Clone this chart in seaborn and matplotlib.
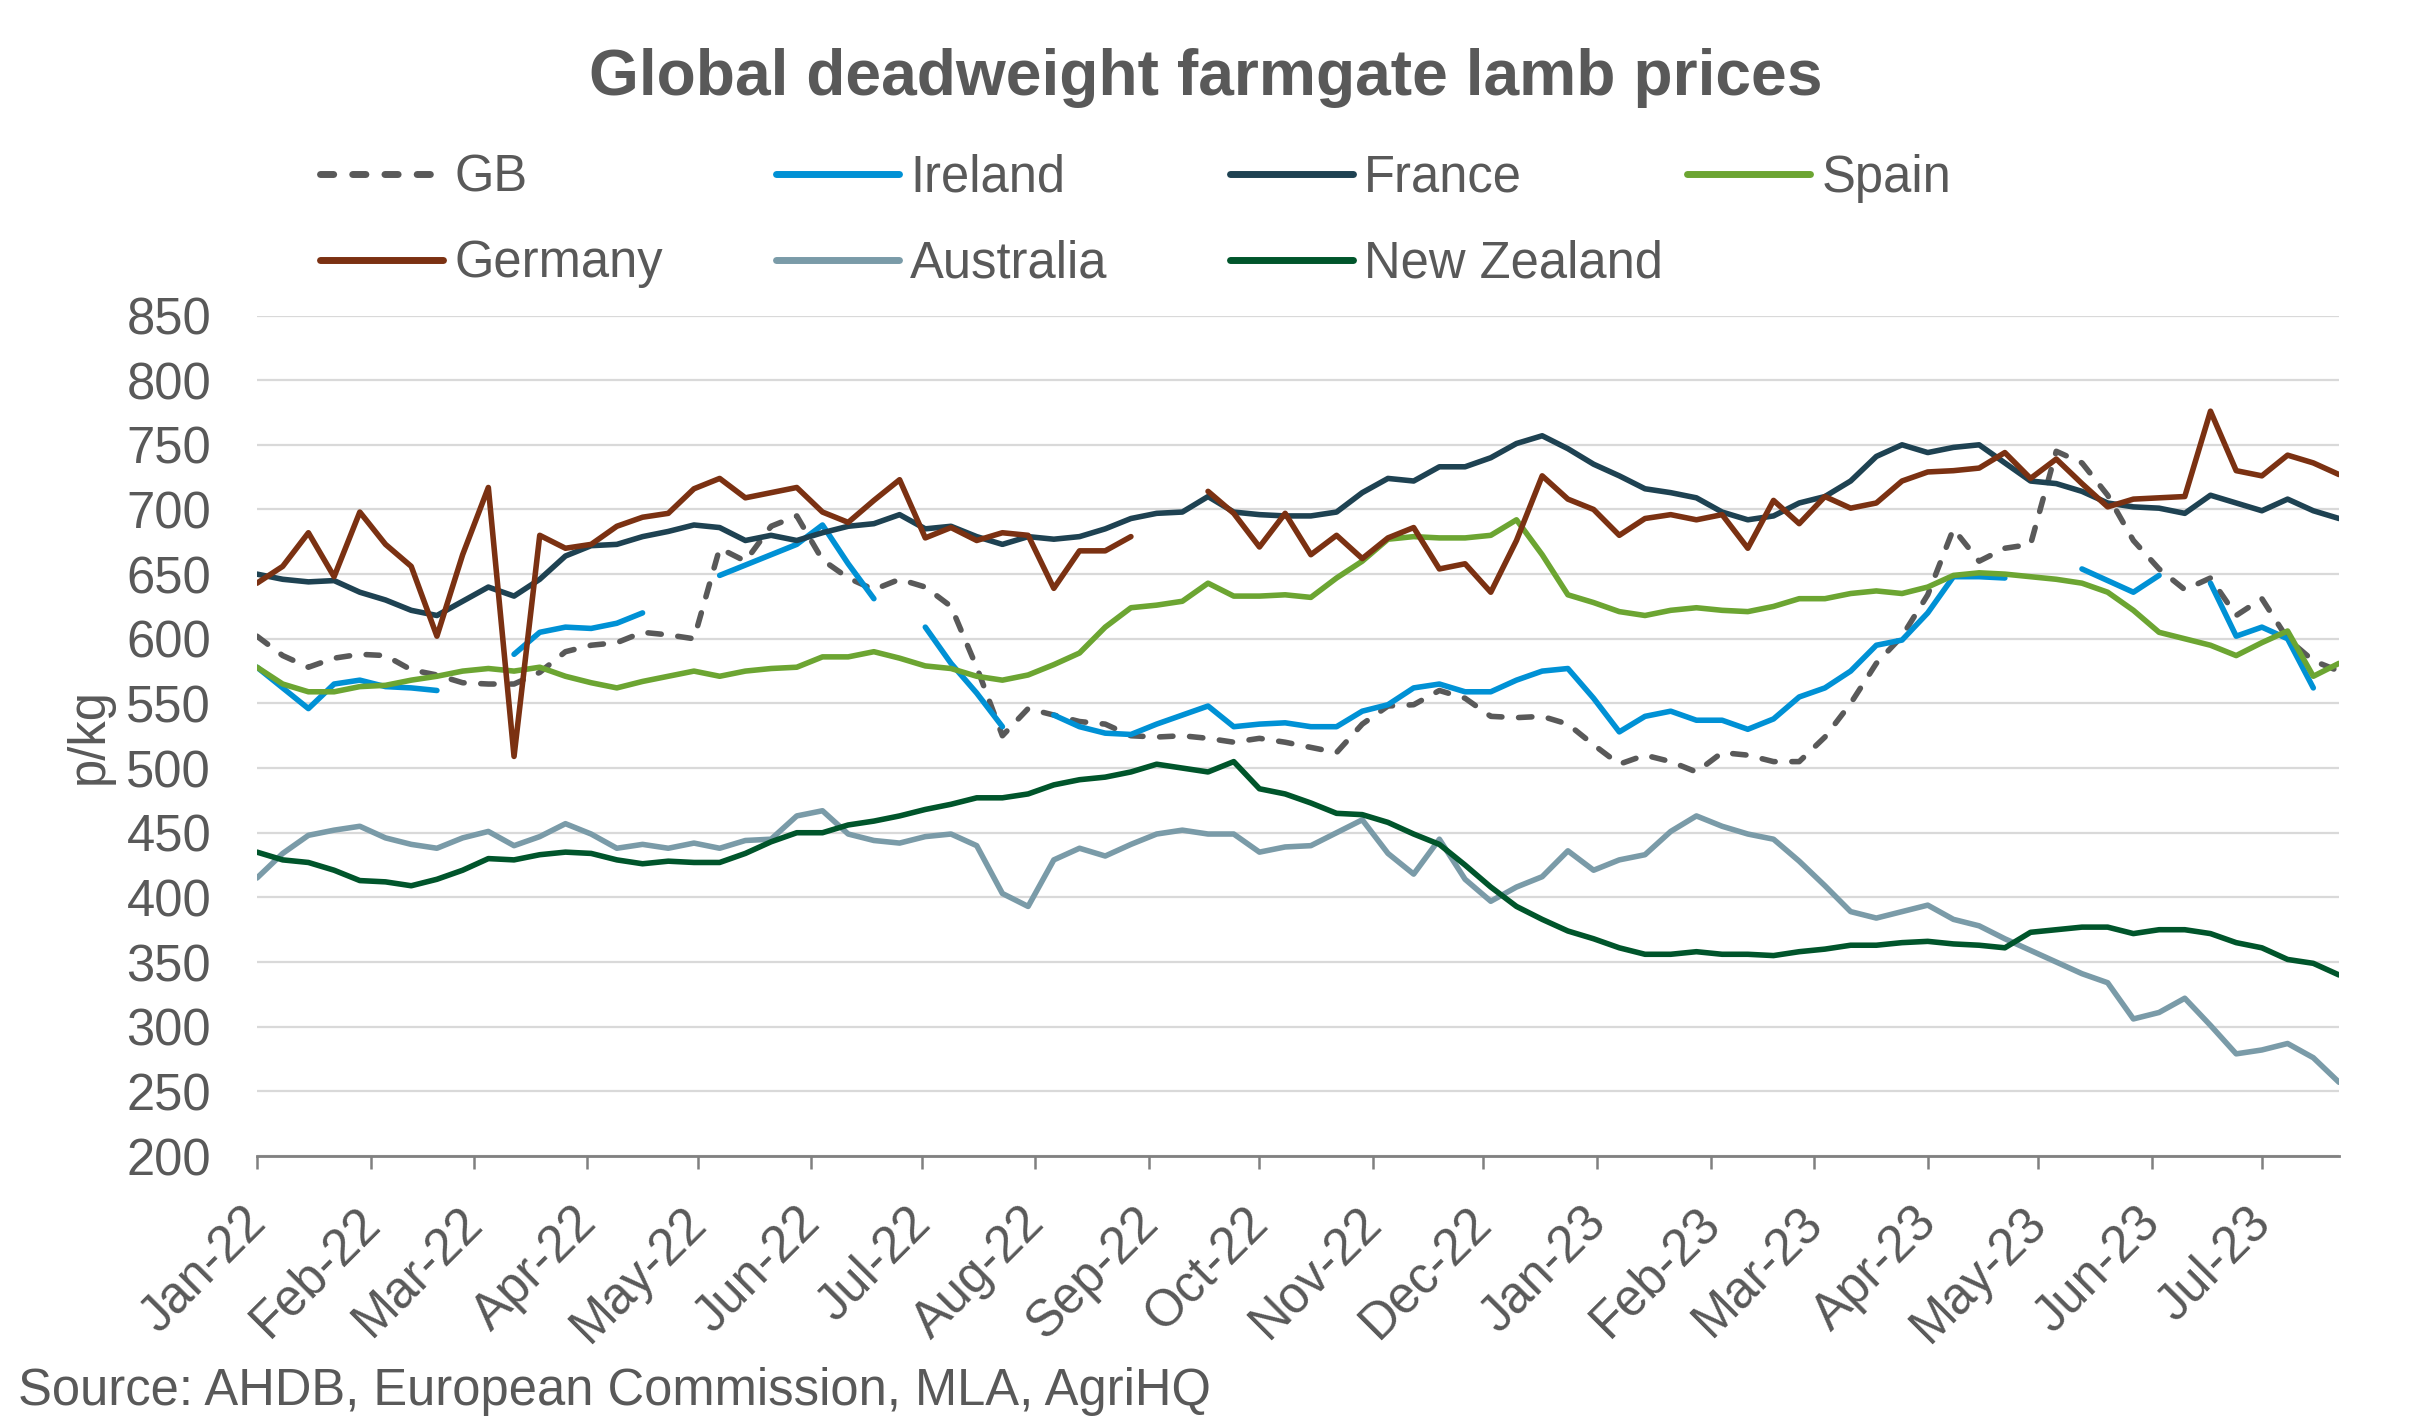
import numpy as np
import pandas as pd
import matplotlib
matplotlib.use("Agg")
import matplotlib.pyplot as plt
import matplotlib.dates as mdates
from matplotlib.lines import Line2D
from matplotlib.transforms import ScaledTranslation
import seaborn as sns

nan = np.nan

# ---------------- data (weekly, from 1 Jan 2022) ----------------
start_date = "2022-01-01"
n_points = 82

gb = [602, 587, 578, 585, 588, 587, 576, 572, 566, 565, 565, 574, 590, 595, 597, 605,
      603, 600, 670, 660, 687, 695, 661, 647, 638, 646, 640, 625, 578, 525, 546, 541,
      536, 534, 525, 524, 525, 523, 520, 523, 520, 516, 512, 534, 548, 549, 560, 554,
      540, 539, 540, 534, 518, 503, 510, 505, 497, 512, 510, 505, 505, 524, 550, 581,
      602, 634, 685, 660, 670, 673, 745, 736, 711, 676, 654, 638, 647, 618, 631, 600,
      583, 575]
ireland = [578, 562, 546, 565, 568, 563, 562, 560, nan, nan, 588, 605, 609, 608, 612, 620,
           nan, nan, 649, 657, 665, 673, 688, 658, 631, nan, 609, 581, 558, 532, nan, 541,
           532, 527, 526, 534, 541, 548, 532, 534, 535, 532, 532, 544, 549, 562, 565, 559,
           559, 568, 575, 577, 554, 528, 540, 544, 537, 537, 530, 538, 555, 562, 575, 595,
           599, 620, 648, 648, 647, nan, nan, 654, 645, 636, 649, nan, 643, 602, 609, 600,
           562, nan]
france = [650, 646, 644, 645, 636, 630, 622, 618, 629, 640, 633, 646, 664, 672, 673, 679,
          683, 688, 686, 676, 680, 676, 682, 687, 689, 696, 685, 687, 679, 673, 679, 677,
          679, 685, 693, 697, 698, 710, 698, 696, 695, 695, 698, 713, 724, 722, 733, 733,
          740, 751, 757, 747, 735, 726, 716, 713, 709, 698, 692, 695, 705, 710, 722, 741,
          750, 744, 748, 750, 736, 722, 720, 714, 705, 702, 701, 697, 711, 705, 699, 708,
          699, 693]
spain = [578, 565, 559, 559, 563, 564, 568, 571, 575, 577, 575, 578, 571, 566, 562, 567,
         571, 575, 571, 575, 577, 578, 586, 586, 590, 585, 579, 577, 571, 568, 572, 580,
         589, 609, 624, 626, 629, 643, 633, 633, 634, 632, 647, 660, 677, 679, 678, 678,
         680, 692, 665, 634, 628, 621, 618, 622, 624, 622, 621, 625, 631, 631, 635, 637,
         635, 640, 649, 651, 650, 648, 646, 643, 636, 622, 605, 600, 595, 587, 597, 606,
         571, 581]
germany = [643, 656, 682, 648, 698, 673, 656, 602, 665, 717, 509, 680, 670, 673, 687, 694,
           697, 716, 724, 709, 713, 717, 698, 690, 707, 723, 678, 686, 676, 682, 680, 639,
           668, 668, 679, nan, nan, 714, 697, 671, 697, 665, 680, 662, 678, 686, 654, 658,
           636, 676, 726, 708, 700, 680, 693, 696, 692, 696, 670, 707, 689, 710, 701, 705,
           722, 729, 730, 732, 744, 724, 739, 720, 702, 708, 709, 710, 776, 730, 726, 742,
           736, 727]
australia = [415, 434, 448, 452, 455, 446, 441, 438, 446, 451, 440, 447, 457, 449, 438, 441,
             438, 442, 438, 444, 445, 463, 467, 449, 444, 442, 447, 449, 440, 403, 393, 429,
             438, 432, 441, 449, 452, 449, 449, 435, 439, 440, 450, 460, 434, 418, 445, 414,
             397, 408, 416, 436, 421, 429, 433, 451, 463, 455, 449, 445, 428, 409, 389, 384,
             389, 394, 383, 378, 368, 359, 350, 341, 334, 306, 311, 322, 301, 279, 282, 287,
             276, 257]
new_zealand = [435, 429, 427, 421, 413, 412, 409, 414, 421, 430, 429, 433, 435, 434, 429, 426,
               428, 427, 427, 434, 443, 450, 450, 456, 459, 463, 468, 472, 477, 477, 480, 487,
               491, 493, 497, 503, 500, 497, 505, 484, 480, 473, 465, 464, 458, 449, 441, 425,
               408, 393, 383, 374, 368, 361, 356, 356, 358, 356, 356, 355, 358, 360, 363, 363,
               365, 366, 364, 363, 361, 373, 375, 377, 377, 372, 375, 375, 372, 365, 361, 352,
               349, 340]

series_names = ["GB", "Ireland", "France", "Spain", "Germany", "Australia", "New Zealand"]
series_values = [gb, ireland, france, spain, germany, australia, new_zealand]
series_colors = ["#595959", "#0091D5", "#1E4252", "#6CA532", "#7B3112", "#7A9BA8", "#00552B"]

title_text = "Global deadweight farmgate lamb prices"
source_text = "Source: AHDB, European Commission, MLA, AgriHQ"
y_label = "p/kg"
y_ticks = list(range(200, 851, 50))

# ---------------- styling ----------------
sns.set_theme(style="white")
plt.rcParams["font.family"] = ["Liberation Sans", "DejaVu Sans"]
TXT = "#595959"
FS = 36.5

dates = pd.date_range(start_date, periods=n_points, freq="7D")

fig = plt.figure(figsize=(24.11, 14.26), dpi=100)
ax = fig.add_axes([257 / 2411, 1 - 1156 / 1426, (2339 - 257) / 2411, (1156 - 315.5) / 1426])

LW = 4.0
gb_dash = (0, (2.4, 3.0))


def segments(vals):
    v = np.asarray(vals, dtype=float)
    idx = np.flatnonzero(~np.isnan(v))
    brk = np.flatnonzero(np.diff(idx) > 1)
    return v, np.split(idx, brk + 1)


handles = []
for k, (name, vals, col) in enumerate(zip(series_names, series_values, series_colors)):
    v, segs = segments(vals)
    ls = gb_dash if name == "GB" else "-"
    for seg in segs:
        if len(seg) < 2:
            continue
        sns.lineplot(x=dates[seg], y=v[seg], ax=ax, color=col, linewidth=LW,
                     linestyle=ls, legend=False, estimator=None, sort=False,
                     zorder=3 + k, solid_capstyle="round", dash_capstyle="round",
                     solid_joinstyle="round", dash_joinstyle="round")
    hls = (0, (1.9, 2.74)) if name == "GB" else "-"
    handles.append(Line2D([], [], color=col, linewidth=5.0, linestyle=hls,
                          solid_capstyle="round", dash_capstyle="round"))

ax.set_ylim(200, 850)
ax.set_yticks(y_ticks)
ax.set_xlim(dates[0], dates[-1])
ax.xaxis.set_major_locator(mdates.MonthLocator())
ax.xaxis.set_major_formatter(mdates.DateFormatter("%b-%y"))

ax.grid(axis="y", color="#D9D9D9", linewidth=1.6)
ax.grid(axis="x", visible=False)
ax.set_axisbelow(True)
for s in ("top", "right", "left"):
    ax.spines[s].set_visible(False)
ax.spines["bottom"].set_color("#808080")
ax.spines["bottom"].set_linewidth(2.0)
ax.spines["bottom"].set_zorder(20)

ax.tick_params(axis="y", length=0, pad=33, labelsize=FS, labelcolor=TXT)
ax.tick_params(axis="x", length=9.5, width=1.8, color="#808080", direction="out",
               labelsize=FS, labelcolor=TXT, pad=10, bottom=True)
label_shift = ScaledTranslation(-0.16, -0.15, fig.dpi_scale_trans)
for lab in ax.get_xticklabels():
    lab.set_rotation(45)
    lab.set_ha("right")
    lab.set_va("top")
    lab.set_rotation_mode("anchor")
    lab.set_transform(lab.get_transform() + label_shift)

ax.set_xlabel("")
ax.set_ylabel(y_label, fontsize=FS, color=TXT)
ax.yaxis.set_label_coords((114 - 257) / 2082, 0.5)

fig.text(0.5, 1 - 95 / 1426, title_text, ha="center", va="baseline",
         fontsize=46.2, fontweight="bold", color=TXT)
fig.text(18 / 2411, 1 - 1392 / 1426, source_text, ha="left", va="center",
         fontsize=FS, color=TXT)

# legend: four equal-width columns like the original
col_x = [320, 776, 1230, 1687]
columns = [[0, 4], [1, 5], [2, 6], [3]]
for cx, members in zip(col_x, columns):
    fig.legend([handles[m] for m in members], [series_names[m] for m in members],
               loc="upper left", bbox_to_anchor=(cx / 2411, 1 - 154 / 1426),
               frameon=False, fontsize=FS, handlelength=2.43, handletextpad=0.22,
               borderpad=0, borderaxespad=0, labelspacing=0.72, labelcolor=TXT)

fig.savefig("out.png", dpi=100)
